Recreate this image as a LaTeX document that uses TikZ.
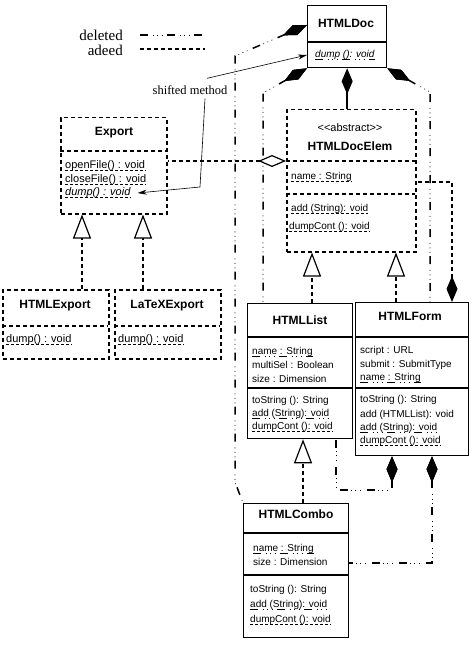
\documentclass[tikz,border=0pt]{standalone}
\usepackage{fontspec}
\setmainfont{Liberation Serif}
\setsansfont{Liberation Sans}
\usetikzlibrary{arrows.meta}

\begin{document}
\begin{tikzpicture}[x=1pt,y=-1pt]
\tikzset{
  cls/.style={draw,line width=1.3pt,anchor=north west,inner sep=0pt},
  added/.style={line width=1.5pt,dash pattern=on 4pt off 3pt},
  deleted/.style={line width=1.5pt,dash pattern=on 8pt off 19pt,
    postaction={draw,line width=0.6pt,dash pattern=on 0pt off 12.5pt on 1pt off 3.5pt on 1pt off 3.5pt on 1pt off 4.5pt}},
  title/.style={font=\sffamily\bfseries\fontsize{12}{14}\selectfont,inner sep=0pt},
  member/.style={font=\sffamily\fontsize{10}{12}\selectfont,anchor=west,inner sep=0pt},
  memberbig/.style={member,font=\sffamily\fontsize{11}{13}\selectfont},
  memberit/.style={member,font=\sffamily\itshape\fontsize{10}{12}\selectfont},
  uadd/.style={append after command={([yshift=-2pt]\tikzlastnode.base west) edge[added,line width=1.2pt,dash pattern=on 3pt off 2pt] ([yshift=-2pt]\tikzlastnode.base east)}},
  uthin/.style={append after command={([yshift=-2pt]\tikzlastnode.base west) edge[line width=0.6pt,dash pattern=on 3pt off 2pt] ([yshift=-2pt]\tikzlastnode.base east)}},
  udel/.style={append after command={([yshift=-2pt]\tikzlastnode.base west) edge[deleted] ([yshift=-2pt]\tikzlastnode.base east)}},
  legend/.style={font=\fontsize{15}{17}\selectfont,inner sep=0pt},
  pointer/.style={line width=0.6pt,-{Stealth[length=9pt,width=5pt]}},
  inherit/.style={-{Triangle[open,length=24pt,width=18pt,line width=1.2pt]}},
  owns/.style={{Diamond[length=26pt,width=11pt]}-},
  shares/.style={{Diamond[open,length=28pt,width=12pt,line width=1.2pt]}-}
}
\useasboundingbox (0,0) rectangle (474,650);

\node[legend,anchor=east] (deltext) at (123,35) {deleted};
\node[legend,anchor=east] (addtext) at (123,50) {adeed};
\draw[deleted] (140,35) -- (205,35);
\draw[added] (140,49) -- (205,49);
\node[font=\fontsize{12.5}{14}\selectfont,inner sep=0pt] (note) at (190,90) {shifted method};

\node[cls,minimum width=79pt,minimum height=62pt] (doc) at (307,5) {};
\draw[line width=1.3pt] (307,42) -- (386,42);
\node[title] (doct) at (346,23) {HTMLDoc};
\node[memberit,udel] (doc1) at (315,55) {dump (): void};

\node[cls,added,minimum width=106pt,minimum height=96pt] (export) at (60,117) {};
\draw[added] (60,151) -- (166,151);
\node[title] (expt) at (114,133) {Export};
\node[memberbig,uadd] (exp1) at (65,166) {openFile() : void};
\node[memberbig,uadd] (exp2) at (65,180) {closeFile() : void};
\node[memberbig,uadd,font=\sffamily\itshape\fontsize{11}{13}\selectfont] (exp3) at (65,193) {dump() : void};

\node[cls,added,minimum width=106pt,minimum height=69pt] (htmlexp) at (2,289) {};
\draw[added] (2,326) -- (108,326);
\node[title] (htmlexpt) at (55,306) {HTMLExport};
\node[memberbig,uadd] (hexp1) at (6,340) {dump() : void};

\node[cls,added,minimum width=106pt,minimum height=69pt] (latexexp) at (114,289) {};
\draw[added] (114,326) -- (220,326);
\node[title] (latexexpt) at (167,306) {LaTeXExport};
\node[memberbig,uadd] (lexp1) at (118,340) {dump() : void};

\node[cls,added,minimum width=129pt,minimum height=142pt] (elem) at (286,109) {};
\draw[added] (286,161) -- (415,161);
\draw[added] (286,194) -- (415,194);
\node[font=\sffamily\fontsize{11}{13}\selectfont,inner sep=0pt] (elems) at (350,128) {<{}<abstract>{}>};
\node[title] (elemt) at (350,146) {HTMLDocElem};
\node[member,uadd] (elem1) at (291,177) {name : String};
\node[member,uadd] (elem2) at (291,209) {add (String): void};
\node[member,uadd] (elem3) at (289,227) {dumpCont (): void};

\node[cls,minimum width=105pt,minimum height=135pt] (list) at (247,303) {};
\draw[line width=1.3pt] (247,337) -- (352,337);
\draw[line width=1.3pt] (247,388) -- (352,388);
\node[title] (listt) at (300,320) {HTMLList};
\node[member,udel] (list1) at (252,352) {name : String};
\node[member] (list2) at (252,365) {multiSel : Boolean};
\node[member] (list3) at (252,379) {size : Dimension};
\node[member] (list4) at (252,401) {toString (): String};
\node[member,udel] (list5) at (252,414) {add (String): void};
\node[member,uadd] (list6) at (252,427) {dumpCont (): void};

\node[cls,minimum width=113pt,minimum height=153pt] (form) at (355,302) {};
\draw[line width=1.3pt] (355,337) -- (468,337);
\draw[line width=1.3pt] (355,388) -- (468,388);
\node[title] (formt) at (410,316) {HTMLForm};
\node[member] (form1) at (360,351) {script : URL};
\node[member] (form2) at (360,365) {submit : SubmitType};
\node[member,udel] (form3) at (360,378) {name : String};
\node[member] (form4) at (360,400) {toString (): String};
\node[member] (form5) at (360,415) {add (HTMLList): void};
\node[member,udel] (form6) at (360,428) {add (String): void};
\node[member,uadd] (form7) at (360,441) {dumpCont (): void};

\node[cls,minimum width=105pt,minimum height=134pt] (combo) at (243,503) {};
\draw[line width=1.3pt] (243,533) -- (348,533);
\draw[line width=1.3pt] (243,575) -- (348,575);
\node[title] (combot) at (296,514) {HTMLCombo};
\node[member,udel] (combo1) at (253,549) {name : String};
\node[member] (combo2) at (253,562) {size : Dimension};
\node[member] (combo3) at (250,590) {toString (): String};
\node[member,udel] (combo4) at (250,605) {add (String): void};
\node[member,uthin] (combo5) at (250,620) {dumpCont (): void};

\draw[pointer] ([xshift=17pt,yshift=7pt]note.north) -- (doc.west |- doc1);
\draw[pointer] ([xshift=15pt,yshift=-4pt]note.south) -- (200,187) -- ([xshift=7pt]exp3.east);

\draw[line width=1.5pt,owns] (doc.south) -- (doc.south |- elem.north);
\draw[added,shares] (elem.west |- 0,161) -- (export.east |- 0,161);
\draw[added,inherit] (htmlexp.north -| 82,0) -- (export.south -| 82,0);
\draw[added,inherit] (latexexp.north -| 143,0) -- (export.south -| 143,0);
\draw[added,inherit] (list.north -| 312,0) -- (elem.south -| 312,0);
\draw[added,inherit] (form.north -| 396,0) -- (elem.south -| 396,0);
\draw[added,inherit] (combo.north -| 303,0) -- (list.south -| 303,0);
\draw[added,owns] (form.north -| 452,0) -- (452,182) -- (elem.east |- 0,182);

\draw[deleted,owns] (doc.west |- 0,25) -- (235,56) -- (235,482) -- (combo.north west);
\draw[deleted,owns] (doc.south west) -- (263,93) -- (list.north -| 263,0);
\draw[deleted,owns] (doc.south east) -- (430,92) -- (form.north -| 430,0);
\draw[deleted,owns] (form.south -| 392,0) -- (392,490) -- (336,490) -- (list.south -| 336,0);
\draw[deleted,owns] (form.south -| 432,0) -- (432,563) -- (combo.east |- 0,563);
\end{tikzpicture}
\end{document}
